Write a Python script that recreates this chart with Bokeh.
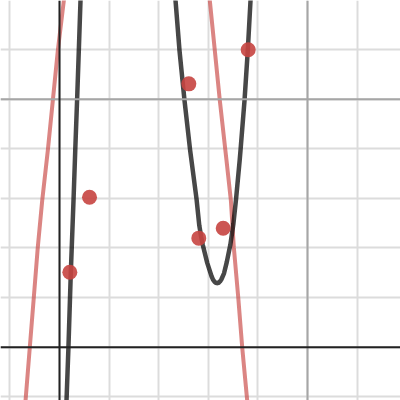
from bokeh.plotting import figure
from bokeh.models import Range1d, FixedTicker, Span
from bokeh.embed import file_html
from bokeh.resources import INLINE

# sample points (red dots)
pts_x = [0.208, 0.605, 2.607, 2.808, 3.300, 3.804]
pts_y = [1.512, 3.024, 5.310, 2.198, 2.399, 5.996]

# black curve (two visible pieces)
black_left_x = [0.141, 0.180, 0.228, 0.282, 0.317, 0.354, 0.389, 0.423, 0.430]
black_left_y = [-1.075, 0.0, 1.512, 2.958, 3.966, 4.974, 5.982, 6.990, 7.15]
black_right_x = [2.330, 2.339, 2.419, 2.486, 2.520, 2.634, 2.762, 2.818, 2.857, 2.889,
                 2.978, 3.065, 3.095, 3.125, 3.150, 3.179, 3.208, 3.236, 3.265, 3.317,
                 3.371, 3.445, 3.505, 3.560, 3.632, 3.649, 3.730, 3.796, 3.851, 3.860]
black_right_y = [7.15, 6.990, 5.982, 5.310, 4.974, 3.966, 2.992, 2.454, 2.218, 2.060,
                 1.700, 1.430, 1.362, 1.320, 1.299, 1.290, 1.299, 1.325, 1.370, 1.490,
                 1.710, 2.070, 2.480, 2.992, 3.764, 3.966, 4.974, 5.982, 6.990, 7.15]

# red curve
red_left_x = [-0.700, -0.685, -0.599, -0.518, -0.438, -0.349, -0.236, -0.135, -0.034, 0.087, 0.105]
red_left_y = [-1.25, -1.075, 0.0, 1.008, 2.016, 2.958, 3.966, 4.974, 5.982, 6.990, 7.15]
red_right_x = [3.010, 3.030, 3.232, 3.367, 3.455, 3.514, 3.603, 3.683, 3.784, 3.800]
red_right_y = [7.15, 6.990, 4.974, 3.764, 2.958, 2.016, 1.008, 0.0, -1.075, -1.25]

# grid
minor_ticks = [-1, 0, 1, 2, 3, 4, 5, 6]
major_ticks = [5]
axis_at = 0

RED = "#c74440"

p = figure(
    width=400,
    height=400,
    x_range=Range1d(-1.19, 6.875),
    y_range=Range1d(-1.075, 6.99),
    output_backend="svg",
    toolbar_location=None,
    tools="",
    min_border=0,
)
p.axis.visible = False
p.outline_line_color = None
p.background_fill_color = "white"
p.border_fill_color = "white"

p.xgrid.ticker = FixedTicker(ticks=minor_ticks)
p.ygrid.ticker = FixedTicker(ticks=minor_ticks)
p.grid.grid_line_color = "#dcdcdc"
p.grid.grid_line_width = 2

for t in major_ticks:
    p.add_layout(Span(location=t, dimension="height", line_color="#a6a6a6", line_width=2))
    p.add_layout(Span(location=t, dimension="width", line_color="#a6a6a6", line_width=2))

p.add_layout(Span(location=axis_at, dimension="height", line_color="#222222", line_width=2))
p.add_layout(Span(location=axis_at, dimension="width", line_color="#222222", line_width=2))

p.line(red_left_x, red_left_y, line_color=RED, line_alpha=0.65, line_width=4)
p.line(red_right_x, red_right_y, line_color=RED, line_alpha=0.65, line_width=4)

p.line(black_left_x, black_left_y, line_color="black", line_alpha=0.72, line_width=4.5,
       line_join="round", line_cap="round")
p.line(black_right_x, black_right_y, line_color="black", line_alpha=0.72, line_width=4.5,
       line_join="round", line_cap="round")

p.scatter(pts_x, pts_y, size=15, fill_color=RED, fill_alpha=0.9, line_color=None)

open("out.html", "w").write(file_html(p, INLINE))
